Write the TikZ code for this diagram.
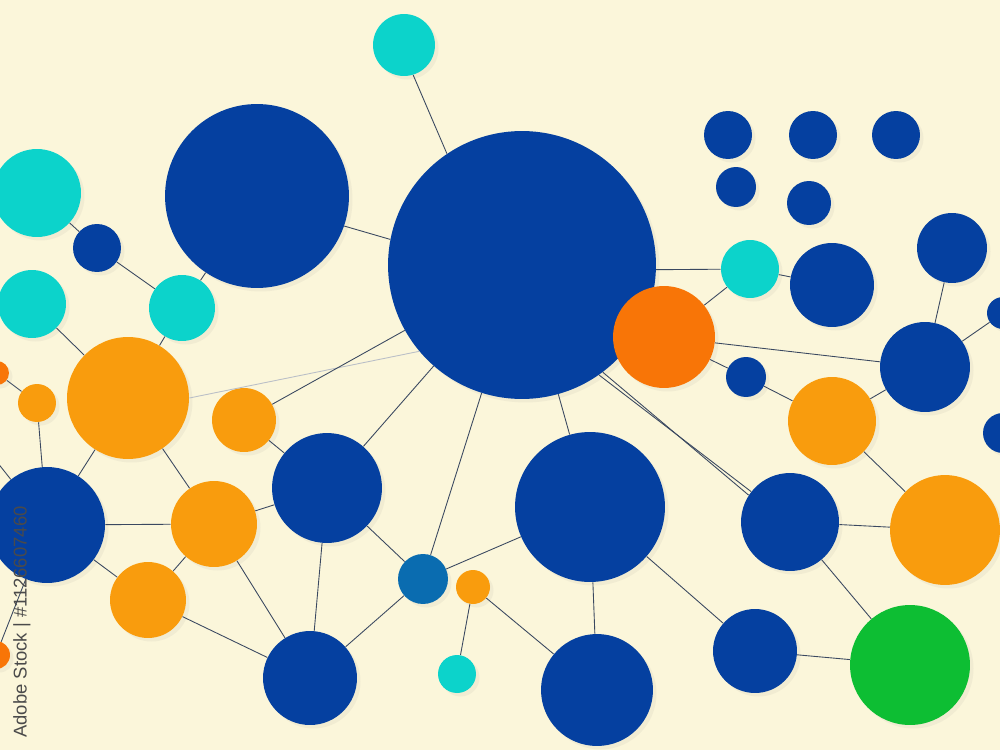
\documentclass[tikz,border=0pt]{standalone}
\usepackage{fontspec}
\newfontfamily\idfont{Liberation Sans}
\usetikzlibrary{shadows}

\definecolor{cream}{HTML}{FBF6DA}
\definecolor{navy}{HTML}{0540A0}
\definecolor{aqua}{HTML}{0CD3CB}
\definecolor{amber}{HTML}{F99C0D}
\definecolor{flame}{HTML}{F87507}
\definecolor{leaf}{HTML}{0DBE33}
\definecolor{steel}{HTML}{0A6CB0}
\definecolor{wirecol}{HTML}{3A4860}
\definecolor{idgrey}{HTML}{4A4A4A}

\begin{document}
\begin{tikzpicture}[x=0.02cm, y=-0.02cm]
  \tikzset{dot/.style = {shape=circle, inner sep=0pt, minimum size=#1*0.04cm,
      drop shadow={shadow xshift=2pt, shadow yshift=-2pt, opacity=0.08}}}
  \tikzset{wire/.style = {draw=wirecol, line width=0.5pt}}
  \tikzset{faint/.style = {draw=wirecol!35, line width=0.5pt}}

  \useasboundingbox (0,0) rectangle (1000,750);
  \fill[cream] (0,0) rectangle (1000,750);
  \clip (0,0) rectangle (1000,750);

  %%%%%%%%%%%% upper left

  \node[dot=31, fill=aqua] (cyanTop) at (404,45) {};
  \node[dot=92, fill=navy] (bigLeft) at (257,196) {};
  \node[dot=134, fill=navy] (hub) at (522,265) {};
  \node[dot=44, fill=aqua] (cyanL) at (37,193) {};
  \node[dot=24, fill=navy] (navyS) at (97,248) {};
  \node[dot=34, fill=aqua] (cyanL2) at (32,304) {};
  \node[dot=33, fill=aqua] (cyanM) at (182,308) {};
  \node[dot=12, fill=flame] (redL) at (-3,373) {};

  %%%%%%%%%%%% lower left

  \node[dot=19, fill=amber] (ambS) at (37,403) {};
  \node[dot=61, fill=amber] (ambBig) at (128,398) {};
  \node[dot=32, fill=amber] (ambM) at (244,420) {};
  \node[dot=58, fill=navy] (navyL) at (47,525) {};
  \node[dot=43, fill=amber] (ambMid) at (214,524) {};
  \node[dot=55, fill=navy] (navyMid) at (327,488) {};
  \node[dot=38, fill=amber] (ambLow) at (148,600) {};
  \node[dot=47, fill=navy] (navyBot) at (310,678) {};
  \node[dot=25, fill=steel] (steelS) at (423,579) {};
  \node[dot=17, fill=amber] (ambTiny) at (473,587) {};
  \node[dot=19, fill=aqua] (cyanBot) at (457,674) {};
  \node[dot=14, fill=flame] (redL2) at (-4,655) {};
  \coordinate (offL) at (-30,428);

  %%%%%%%%%%%% lower right

  \node[dot=75, fill=navy] (navyLow) at (590,507) {};
  \node[dot=56, fill=navy] (navyBotC) at (597,690) {};
  \node[dot=49, fill=navy] (navyMR) at (790,522) {};
  \node[dot=42, fill=navy] (navyLR) at (755,651) {};
  \node[dot=60, fill=leaf] (green) at (910,665) {};
  \node[dot=55, fill=amber] (ambR) at (945,530) {};
  \node[dot=44, fill=amber] (ambRU) at (832,421) {};
  \node[dot=20, fill=navy] (navyEdge) at (1003,433) {};

  %%%%%%%%%%%% upper right

  \node[dot=24, fill=navy] (dotA) at (728,135) {};
  \node[dot=24, fill=navy] (dotB) at (813,135) {};
  \node[dot=24, fill=navy] (dotC) at (896,135) {};
  \node[dot=20, fill=navy] (dotD) at (736,187) {};
  \node[dot=22, fill=navy] (dotE) at (809,203) {};
  \node[dot=29, fill=aqua] (cyanR) at (750,269) {};
  \node[dot=42, fill=navy] (navyC) at (832,285) {};
  \node[dot=35, fill=navy] (navyUR) at (952,248) {};
  \node[dot=45, fill=navy] (navyR) at (925,367) {};
  \node[dot=16, fill=navy] (navyEdge2) at (1003,313) {};
  \node[dot=51, fill=flame] (flameM) at (664,337) {};
  \node[dot=20, fill=navy] (navyS2) at (746,377) {};

  %%%%%%%%%%%% connectors

  \path (cyanTop.287) edge[wire] (hub.124);
  \path (bigLeft.-19) edge[wire] (hub.169);
  \path (cyanL) edge[wire] (navyS);
  \path (navyS) edge[wire] (cyanM);
  \path (cyanM) edge[wire] (bigLeft);
  \path (cyanL2) edge[wire] (ambBig);
  \path (cyanM) edge[wire] (ambBig);
  \path (redL) edge[wire] (ambS);
  \path (ambS) edge[wire] (navyL);
  \path (offL) edge[wire] (navyL);
  \path (ambBig) edge[wire] (navyL);
  \path (ambBig) edge[wire] (ambMid);
  \path (ambBig.east) edge[faint] (hub.220);
  \path (ambM) edge[wire] (hub);
  \path (ambM) edge[wire] (navyMid);
  \path (navyMid) edge[wire] (hub);
  \path (hub) edge[wire] (steelS);
  \path (navyL) edge[wire] (ambMid);
  \path (ambMid) edge[wire] (navyMid);
  \path (navyL) edge[wire] (ambLow);
  \path (ambMid) edge[wire] (ambLow);
  \path (navyL) edge[wire] (redL2);
  \path (ambLow) edge[wire] (navyBot);
  \path (ambMid) edge[wire] (navyBot);
  \path (navyMid) edge[wire] (navyBot);
  \path (navyMid) edge[wire] (steelS);
  \path (navyBot) edge[wire] (steelS);
  \path (steelS) edge[wire] (navyLow);
  \path (ambTiny) edge[wire] (cyanBot);
  \path (ambTiny) edge[wire] (navyBotC);

  \path (hub) edge[wire] (navyLow);
  \path (hub.305) edge[wire] (navyMR.142);
  \path (hub.307) edge[wire] (navyMR.147);
  \path (navyLow) edge[wire] (navyLR);
  \path (navyLow) edge[wire] (navyBotC);
  \path (navyS2) edge[wire] (ambRU);
  \path (ambRU) edge[wire] (navyR);
  \path (ambRU) edge[wire] (ambR);
  \path (navyMR) edge[wire] (ambR);
  \path (navyMR) edge[wire] (green);
  \path (navyLR) edge[wire] (green);

  \path (hub.-2) edge[wire] (cyanR);
  \path (cyanR) edge[wire] (navyC);
  \path (flameM) edge[wire] (cyanR);
  \path (flameM) edge[wire] (navyR);
  \path (flameM) edge[wire] (navyS2);
  \path (navyUR) edge[wire] (navyR);
  \path (navyR) edge[wire] (navyEdge2);

  %%%%%%%%%%%% id strip

  \node[rotate=90, text=idgrey, font=\idfont\fontsize{10.5}{12}\selectfont]
    (stockid) at (22,622) {Adobe Stock | \#1126607460};

\end{tikzpicture}
\end{document}
